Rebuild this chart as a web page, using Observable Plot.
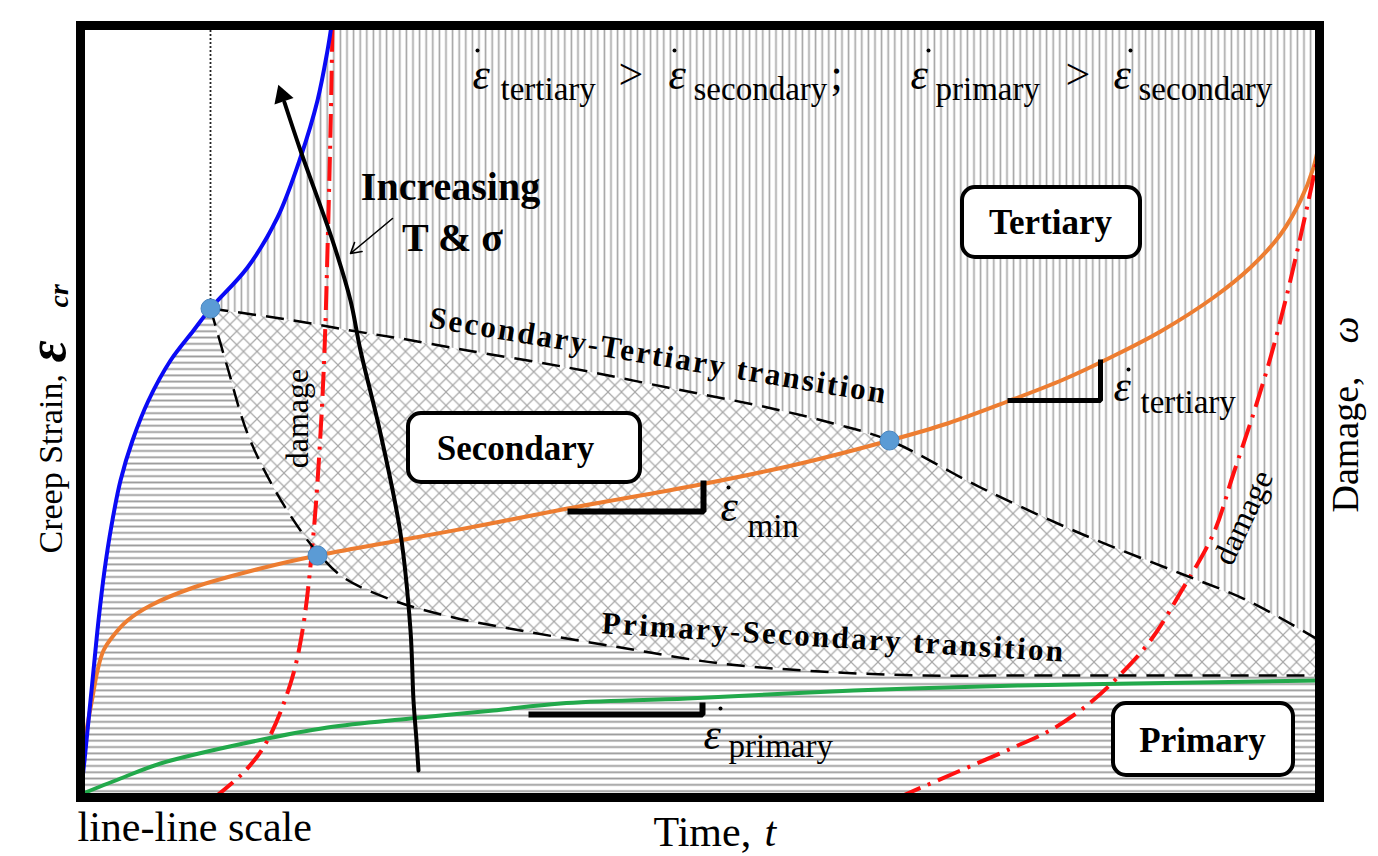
<!DOCTYPE html>
<html><head><meta charset="utf-8">
<script src="https://cdn.jsdelivr.net/npm/d3@7"></script>
<script src="https://cdn.jsdelivr.net/npm/@observablehq/plot@0.6"></script>
<style>
html,body{margin:0;padding:0;background:#fff;}
svg{display:block}
svg text{font-family:"Liberation Serif","Times New Roman",Times,"DejaVu Serif",serif !important;}
</style>
</head><body><div id="chart"></div>
<script>
// ---- data (schematic units: time t along x, creep strain along y) ----
const blueCurve = [[0,3],[4,37],[8,77],[13,127],[18,177],[24,227],[31,272],[40,317],[52,357],[68,397],[90,437],[113,467],[130,489],[167,530],[197,580],[220,640],[237,697],[247,747],[251,772]];
const orangeCurve = [[1,5],[3,47],[12,100],[17,127],[23,147],[33,162],[47,177],[70,192],[113,210],[180,229],[237,242],[313,256],[400,272],[487,289],[620,313],[720,334],[809,357],[867,374],[927,396],[983,418],[1030,440],[1080,466],[1133,500],[1170,530],[1200,563],[1220,597],[1233,630],[1239,657]];
const greenCurve = [[0,3],[40,19],[80,34],[163,54],[247,70],[330,79],[413,87],[480,94],[607,99],[773,107],[940,112],[1053,114],[1239,117]];
const damageLeft = [[134,0],[165,27],[187,57],[210,114],[222,167],[233,264],[240,364],[244,447],[247,547],[250,667],[252,772]];
const damageRight = [[818,0],[880,27],[933,50],[973,69],[1010,95],[1037,120],[1070,157],[1100,205],[1133,264],[1153,324],[1173,384],[1190,440],[1205,497],[1218,552],[1228,597],[1237,639]];
const increasingArrow = [[338,27],[336,57],[333,97],[330,167],[320,264],[300,364],[280,447],[270,497],[253,554],[220,647],[204,695]];
const stTransition = [[130,489],[213,477],[270,467],[320,459],[387,447],[487,430],[587,410],[687,390],[753,374],[809,357],[900,310],[1000,264],[1100,224],[1167,197],[1239,157]];
const psTransition = [[130,489],[147,430],[167,364],[193,310],[220,267],[237,245],[263,220],[313,197],[373,180],[440,167],[540,150],[640,134],[740,126],[840,122],[940,122],[1239,122]];
const transitionPoints = [[130,489],[237,242],[809,357]];
const slopeMin = [[487,286],[623,286],[623,317]];
const slopePrimary = [[448,83],[622,83],[622,95]];
const slopeTertiary = [[927,397],[1020,397],[1020,438]];
const xMax = 1239, yMax = 772;

// regions built from the curves
const iA = 12; // index of the secondary-tertiary onset point on the blue curve
const primaryRegion = [[0,0], ...blueCurve.slice(0, iA + 1), ...psTransition.slice(1), [xMax,0]];
const secondaryRegion = [...stTransition, ...psTransition.slice().reverse()];
const tertiaryRegion = [...blueCurve.slice(iA), [xMax,yMax], ...stTransition.slice().reverse()];

const F = "'Liberation Serif', 'Times New Roman', Times, 'DejaVu Serif', serif";
const X = d => d[0], Y = d => d[1];
function txt(s, x, y, o = {}) {
  return Plot.text([s], {x, y, text: d => d, fontFamily: F, fill: "black", lineAnchor: "middle", ...o});
}

function patterns() {
  const g = d3.create("svg:g");
  const defs = g.append("defs");
  const h = defs.append("pattern").attr("id", "hpat").attr("patternUnits", "userSpaceOnUse").attr("width", 10).attr("height", 6.3);
  h.append("rect").attr("width", 10).attr("height", 6.3).attr("fill", "white");
  h.append("line").attr("x1", 0).attr("x2", 10).attr("y1", 3.15).attr("y2", 3.15).attr("stroke", "#9a9a9a").attr("stroke-width", 1.8);
  const v = defs.append("pattern").attr("id", "vpat").attr("patternUnits", "userSpaceOnUse").attr("width", 6.6).attr("height", 10);
  v.append("rect").attr("width", 6.6).attr("height", 10).attr("fill", "white");
  v.append("line").attr("x1", 3.3).attr("x2", 3.3).attr("y1", 0).attr("y2", 10).attr("stroke", "#a4a4a4").attr("stroke-width", 1.6);
  const x = defs.append("pattern").attr("id", "xpat").attr("patternUnits", "userSpaceOnUse").attr("width", 13.5).attr("height", 13.5);
  x.append("rect").attr("width", 13.5).attr("height", 13.5).attr("fill", "white");
  x.append("path").attr("d", "M-1,-1L14.5,14.5M14.5,-1L-1,14.5").attr("stroke", "#a8a8a8").attr("stroke-width", 1.2).attr("fill", "none");
  return g.node();
}

const eps = {fontSize: 44, fontStyle: "italic", textAnchor: "start"};
const sub = {fontSize: 33, textAnchor: "start"};
const boxText = {fontSize: 35, fontWeight: "bold", textAnchor: "middle"};
const box = {rx: 13, fill: "white", stroke: "black", strokeWidth: 4};

const plot = Plot.plot({
  width: 1378, height: 856,
  marginLeft: 80, marginRight: 59, marginTop: 25, marginBottom: 59,
  x: {domain: [0, xMax], axis: null},
  y: {domain: [0, yMax], axis: null},
  style: {background: "white", overflow: "visible"},
  marks: [
    patterns,
    Plot.line(primaryRegion, {x: X, y: Y, fill: "url(#hpat)", stroke: "none", curve: "linear"}),
    Plot.line(secondaryRegion, {x: X, y: Y, fill: "url(#xpat)", stroke: "none", curve: "linear"}),
    Plot.line(tertiaryRegion, {x: X, y: Y, fill: "url(#vpat)", stroke: "none", curve: "linear"}),
    Plot.ruleX([130], {y1: 489, y2: yMax, stroke: "#222", strokeWidth: 1.8, strokeDasharray: "2,2"}),
    Plot.line(greenCurve, {x: X, y: Y, stroke: "#22a94b", strokeWidth: 4, curve: "catmull-rom"}),
    Plot.line(orangeCurve, {x: X, y: Y, stroke: "#ed7d31", strokeWidth: 4, curve: "catmull-rom"}),
    Plot.line(damageLeft, {x: X, y: Y, stroke: "#ff1010", strokeWidth: 4, strokeDasharray: "24,8,3,8", strokeLinecap: "butt", curve: "catmull-rom"}),
    Plot.line(damageRight, {x: X, y: Y, stroke: "#ff1010", strokeWidth: 4, strokeDasharray: "24,8,3,8", strokeLinecap: "butt", curve: "catmull-rom"}),
    Plot.line(stTransition, {x: X, y: Y, stroke: "black", strokeWidth: 2.5, strokeDasharray: "18,10", strokeLinecap: "butt", curve: "catmull-rom"}),
    Plot.line(psTransition, {x: X, y: Y, stroke: "black", strokeWidth: 2.5, strokeDasharray: "18,10", strokeLinecap: "butt", curve: "catmull-rom"}),
    Plot.line(blueCurve, {x: X, y: Y, stroke: "#0a0af5", strokeWidth: 4, curve: "catmull-rom"}),
    Plot.line(increasingArrow, {x: X, y: Y, stroke: "black", strokeWidth: 4, curve: "catmull-rom"}),
    Plot.dot([0], {x: 201.6, y: 701.7, symbol: "triangle", r: 7.5, fill: "black", stroke: "none", rotate: -19}),
    Plot.arrow([0], {x1: 312, y1: 579, x2: 270, y2: 544, stroke: "black", strokeWidth: 1.6, headLength: 11}),
    Plot.line(slopeMin, {x: X, y: Y, stroke: "black", strokeWidth: 6, strokeLinejoin: "miter", strokeLinecap: "butt", curve: "linear"}),
    Plot.line(slopePrimary, {x: X, y: Y, stroke: "black", strokeWidth: 6, strokeLinejoin: "miter", strokeLinecap: "butt", curve: "linear"}),
    Plot.line(slopeTertiary, {x: X, y: Y, stroke: "black", strokeWidth: 5, strokeLinejoin: "miter", strokeLinecap: "butt", curve: "linear"}),
    Plot.dot(transitionPoints, {x: X, y: Y, r: 9.5, fill: "#5b9bd5", stroke: "#4a86c0", strokeWidth: 1}),
    // boxes
    Plot.rect([0], {x1: 328, x2: 560, y1: 315, y2: 384, ...box}),
    Plot.rect([0], {x1: 882, x2: 1060, y1: 540, y2: 610, ...box}),
    Plot.rect([0], {x1: 1033, x2: 1213, y1: 22, y2: 94, ...box}),
    txt("Secondary", 435, 349, boxText),
    txt("Tertiary", 970, 575, boxText),
    txt("Primary", 1122, 57, boxText),
    // top inequality
    txt("ε", 392, 723, eps), txt("tertiary", 420, 708, sub),
    txt(">", 538, 723, {fontSize: 44, textAnchor: "start"}),
    txt("ε", 588, 723, eps), txt("secondary", 613, 708, sub),
    txt(";", 750, 723, {fontSize: 44, textAnchor: "start"}),
    txt("ε", 830, 723, eps), txt("primary", 855, 708, sub),
    txt(">", 985, 723, {fontSize: 44, textAnchor: "start"}),
    txt("ε", 1033, 723, eps), txt("secondary", 1058, 708, sub),
    Plot.dot([[397,747],[594,747],[848,747],[1050,747],[648,310],[1048,428],[640,89]], {x: X, y: Y, r: 2, fill: "black", stroke: "none"}),
    // rate labels
    txt("ε", 640, 291, eps), txt("min", 667, 271, sub),
    txt("ε", 1033, 411, eps), txt("tertiary", 1060, 395, sub),
    txt("ε", 623, 63, eps), txt("primary", 648, 51, sub),
    // arrow label
    txt("Increasing", 370, 610, {fontSize: 40, fontWeight: "bold", textAnchor: "middle"}),
    txt("T & σ", 372, 559, {fontSize: 40, fontWeight: "bold", textAnchor: "middle"}),
    // transition labels
    txt("Secondary-Tertiary transition", 577, 442, {fontSize: 31, fontWeight: "bold", textAnchor: "middle", rotate: 9.5}),
    txt("Primary-Secondary transition", 752, 160, {fontSize: 31, fontWeight: "bold", textAnchor: "middle", rotate: 3.5}),
    txt("damage", 217, 379, {fontSize: 32, textAnchor: "middle", rotate: -90}),
    txt("damage", 1163, 280, {fontSize: 32, textAnchor: "middle", rotate: -65}),
    // axis labels
    txt("Creep Strain,", -29, 244, {fontSize: 34, textAnchor: "start", rotate: -90}),
    txt("ε", -33, 435, {fontSize: 54, fontStyle: "italic", fontWeight: "bold", textAnchor: "start", rotate: -90}),
    txt("cr", -21, 490, {fontSize: 28, fontStyle: "italic", fontWeight: "bold", textAnchor: "start", rotate: -90}),
    txt("Damage,", 1265, 285, {fontSize: 38, textAnchor: "start", rotate: -90}),
    txt("ω", 1265, 454, {fontSize: 38, fontStyle: "italic", textAnchor: "start", rotate: -90}),
    txt("line-line scale", -3, -30, {fontSize: 42, textAnchor: "start"}),
    txt("Time,", 573, -35, {fontSize: 42, textAnchor: "start"}),
    txt("t", 684, -35, {fontSize: 42, fontStyle: "italic", textAnchor: "start"}),
    Plot.frame({stroke: "black", strokeWidth: 9})
  ]
});

plot.querySelectorAll("text").forEach(t => {
  const s = t.textContent;
  if (s === "Secondary-Tertiary transition") { t.setAttribute("textLength", 462); t.setAttribute("lengthAdjust", "spacing"); }
  if (s === "Primary-Secondary transition") { t.setAttribute("textLength", 462); t.setAttribute("lengthAdjust", "spacing"); }
});
document.getElementById("chart").appendChild(plot);
</script>
</body></html>
